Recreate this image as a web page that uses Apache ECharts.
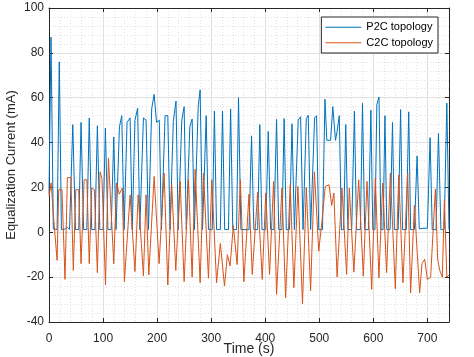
<!DOCTYPE html>
<html><head><meta charset="utf-8">
<script src="https://cdn.jsdelivr.net/npm/echarts@6/dist/echarts.min.js"></script>
<style>html,body{margin:0;padding:0;background:#fff}#c{width:474px;height:357px}</style>
</head><body><div id="c"></div>
<script>
// ---- data ----
const p2cTime = [0,3.7,8,15,19,23,30,34,38,44,49,55,59.3,64,70,74.5,79,85,89.5,94,100,104.3,109,115,119.8,124,127,130.3,134.6,139,141,144.4,150,154,156,159,164,168,171,174.7,179.6,184,186,190,194.5,199,204,208,211,214.8,219.8,224,226,230,235,239,241,245.7,250,254,256,260.5,264.8,269,271,276,279.6,284,287,290.8,295,302,306,310,317,321,325,332,336,340,347,350.6,355,370,374.7,379,386,390,394,401,405.6,410,416,421,425,431,435,439,445,449.5,454,457,461,465.5,470,472,476,479.6,484,487,491.4,495,499,506,510.5,514,521,525,530,533,537,541,545,549,553,560,565,569,576,580,584,591,595.5,599,603,606.5,610.5,614,618,621.5,625,631,635.5,639,646,650.5,654,661,665.5,669,676,681,685,692,700,705,709,716,720.5,725,731,736,740];
const p2cValue = [17,87,1.5,1.2,76,1.2,1.5,2.2,1.3,48,1.2,1.2,49,1.2,1.2,51,1.2,1.2,47.5,1.2,1.2,46.5,1.2,1.2,42.5,1.2,1.2,47,52,1.2,1.2,49,51,1.2,1.2,50,55.3,1.2,1.2,51,50,1.2,1.2,55,61.5,49,50,1.2,1.2,52,52,1.2,1.2,49.5,58.5,1.2,1.2,50,56,1.2,1.2,47,50.5,1.2,1.2,56,63.5,1.2,1.2,52,1.2,1.2,54,1.2,1.2,54,1.2,1.2,55,1.2,1.2,60,1.2,1.2,43,1.2,1.2,48,1.2,1.2,45,1.2,1.2,50.3,1.2,1.2,50.7,1.2,1.2,48.4,1.2,1.2,50,51.5,1.2,1.2,50.7,52.2,1.2,1.2,51,52,1.2,1.2,59.3,41,41,56,41,45,52,1.2,1.2,48,1.2,1.2,54,1.2,1.2,57.5,1.2,1.2,54.5,1.2,1.2,57,60.3,1.2,1.2,52,1.2,1.2,49,1.2,1.2,54.7,1.2,1.2,53.7,1.2,1.2,34,1.5,1.8,1.8,42.2,1.2,1.2,44,1.2,1.2,57.6,1.2];
const c2cTime = [0,4,9,15,18,24,29.6,34,40.5,45,49.5,55,59.3,65,70,74.5,79,84,89.5,94.4,98,104.5,110,119.8,125,130,135.7,139.5,150,159,165,174.7,179.6,184.6,194.5,203.7,213,219.8,227,234.6,242.6,250,258,264.8,270.4,279.6,285.8,295,301.2,310,317,324.7,330,335,341,348,354,360.5,370,376,386,394.5,401,408,415.5,421,431,437.7,446.3,453,460.5,469,476,484,491,499,505,511,518,523,527,533,542,550.6,555.6,564,572.9,581.5,588.3,597,603.7,610.4,617.3,624.6,631.5,640.7,647,654.8,663.6,669,676,685.7,690,695,700,706,714.8,719,723,727.6,731.5,736,740];
const c2cValue = [16,22,5,-12.5,19,19,-21,24.4,24.4,-17,19,19,-14,23.4,23.4,-14,19.7,19,-18,27,24,-23.5,33,-14,22,17,19.7,-22,16.7,-17.5,16.7,-19.5,16.7,-19,24.9,-14,26.4,-23.5,21.2,-17,22.7,-22,23.4,-20,28.1,-22.5,26.4,-20.5,23.4,-22.5,-5,-24,-10,-15,3,-14.4,23.4,-22,17,-18.8,17.8,-21,17.5,-18.8,22.7,-27.7,19.7,-29.2,21.2,-24.7,20.4,-31.9,20,-26,27,-8.4,5,20.4,21.2,12,17.5,-19.9,19.7,-18.8,19.7,-17.8,23.4,-19.6,22.7,-25.5,24.1,-20.3,21.9,-18,26.4,-25.2,25.6,-22.5,26.4,-27,12,-27,-14,-12,-21,-20,19.3,-12,-17,-20,14.5,-20,-19];
const xTicks = [0,100,200,300,400,500,600,700];
const yTicks = [-40,-20,0,20,40,60,80,100];
const seriesNames = ['P2C topology','C2C topology'];

// ---- chart ----
const FONT = '"Liberation Sans", Arial, Helvetica, sans-serif';
const INK = '#262626';
const chart = echarts.init(document.getElementById('c'), null, {renderer:'canvas'});
const pairs = (ts, vs) => ts.map((t,i)=>[t, vs[i]]);
const boxAxis = (extra) => Object.assign({
  type:'value', min:0, max:740, interval:100,
  axisLine:{show:true, onZero:false, lineStyle:{color:INK, width:1}},
  axisTick:{show:true, inside:true, length:4, lineStyle:{color:INK}},
  axisLabel:{show:false}, splitLine:{show:false}
}, extra);
chart.setOption({
  animation:false,
  backgroundColor:'#ffffff',
  grid:{left:49, right:25, top:8, bottom:35, containLabel:false, outerBoundsMode:'none'},
  legend:{
    data:seriesNames, orient:'vertical', right:36, top:17,
    icon:'rect', itemWidth:36, itemHeight:1.2, itemGap:3,
    padding:[4,5,4,4], borderColor:INK, borderWidth:1, backgroundColor:'#ffffff',
    textStyle:{fontFamily:FONT, fontSize:11, color:'#000', lineHeight:12.5}
  },
  xAxis:[
    boxAxis({position:'bottom',
      axisLabel:{show:true, margin:11, fontFamily:FONT, fontSize:12, color:INK,
        formatter:v=> xTicks.includes(v) ? String(v) : ''},
      splitLine:{show:true, lineStyle:{color:'#e0e0e0', width:1}},
      name:'Time (s)', nameLocation:'middle', nameGap:20, nameMoveOverlap:false,
      nameTextStyle:{fontFamily:FONT, fontSize:14, color:INK}}),
    boxAxis({position:'top'}),
    {type:'value', min:0, max:740, interval:20, position:'bottom',
      axisLine:{show:false}, axisTick:{show:false}, axisLabel:{show:false},
      splitLine:{show:true, lineStyle:{color:'#e2e2e2', width:1, type:[1,2]}}}
  ],
  yAxis:[
    boxAxis({position:'left', min:-40, max:100, interval:20,
      axisLabel:{show:true, margin:5, fontFamily:FONT, fontSize:12, color:INK,
        formatter:v=> yTicks.includes(v) ? String(v) : ''},
      splitLine:{show:true, lineStyle:{color:'#e0e0e0', width:1}},
      name:'Equalization Current (mA)', nameLocation:'middle', nameGap:31, nameMoveOverlap:false,
      nameTextStyle:{fontFamily:FONT, fontSize:13, color:INK}}),
    boxAxis({position:'right', min:-40, max:100, interval:20}),
    {type:'value', min:-40, max:100, interval:4, position:'left',
      axisLine:{show:false}, axisTick:{show:false}, axisLabel:{show:false},
      splitLine:{show:true, lineStyle:{color:'#e2e2e2', width:1, type:[1,2]}}}
  ],
  series:[
    {name:seriesNames[0], type:'line', xAxisIndex:0, yAxisIndex:0,
      data:pairs(p2cTime,p2cValue), symbol:'none', showSymbol:false,
      lineStyle:{color:'#0072BD', width:1}, itemStyle:{color:'#0072BD'}},
    {name:seriesNames[1], type:'line', xAxisIndex:0, yAxisIndex:0,
      data:pairs(c2cTime,c2cValue), symbol:'none', showSymbol:false,
      lineStyle:{color:'#D95319', width:1}, itemStyle:{color:'#D95319'}}
  ]
});
</script>
</body></html>
